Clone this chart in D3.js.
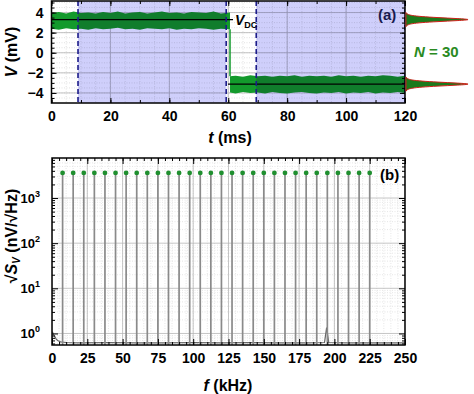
<!DOCTYPE html>
<html>
<head>
<meta charset="utf-8">
<script src="https://cdn.jsdelivr.net/npm/d3@7"></script>
<style>
  body { margin: 0; background: #fff; }
  svg text { font-family: "Liberation Sans", Arial, sans-serif; font-weight: bold; }
</style>
</head>
<body>
<svg id="chart" width="474" height="394"></svg>
<script>
// ---- panel (a): voltage trace ----
const tTicks = [0, 20, 40, 60, 80, 100, 120];
const vTicks = [-4, -2, 0, 2, 4];
const windows = [[9, 59.3], [69.5, 120]];
const stepTime = 60.6;
const levels = [3.3, -3.12];

const segAt  = [0, 2.5, 5, 7.5, 10, 12.5, 15, 17.5, 20, 22.5, 25, 27.5, 30, 32.5, 35, 37.5, 40, 42.5, 45, 47.5, 50, 52.5, 55, 57.5, 60.6];
const segAhi = [3.95, 4.05, 3.9, 4.1, 3.95, 4.0, 3.9, 4.05, 3.95, 4.1, 3.9, 4.0, 4.05, 3.9, 4.0, 4.1, 3.95, 4.0, 3.9, 4.05, 4.0, 3.95, 4.1, 3.9, 4.0];
const segAlo = [2.4, 2.3, 2.45, 2.35, 2.4, 2.3, 2.45, 2.35, 2.4, 2.5, 2.35, 2.4, 2.3, 2.45, 2.4, 2.35, 2.45, 2.3, 2.4, 2.35, 2.45, 2.4, 2.3, 2.4, 2.35];
const segBt  = [60.6, 62.5, 65, 67.5, 70, 72.5, 75, 77.5, 80, 82.5, 85, 87.5, 90, 92.5, 95, 97.5, 100, 102.5, 105, 107.5, 110, 112.5, 115, 117.5, 120];
const segBhi = [-2.35, -2.3, -2.4, -2.25, -2.35, -2.3, -2.4, -2.3, -2.35, -2.25, -2.4, -2.3, -2.35, -2.3, -2.4, -2.25, -2.35, -2.3, -2.4, -2.3, -2.35, -2.25, -2.3, -2.4, -2.3];
const segBlo = [-3.95, -4.05, -3.9, -4.0, -3.95, -4.05, -3.9, -4.0, -4.05, -3.95, -3.9, -4.0, -4.05, -3.95, -4.0, -3.9, -4.05, -3.95, -4.0, -3.9, -4.05, -3.95, -4.0, -3.9, -4.0];

// histogram of the two levels (offset from level, relative counts)
const histDV = [-0.7, -0.6, -0.5, -0.4, -0.3, -0.2, -0.1, 0, 0.1, 0.2, 0.3, 0.4, 0.5, 0.6, 0.7];
const histN  = [0, 1, 3, 8, 20, 42, 70, 90, 70, 42, 20, 8, 3, 1, 0];

// ---- panel (b): spectrum ----
const fTicks = [0, 25, 50, 75, 100, 125, 150, 175, 200, 225, 250];
const decades = [1, 10, 100, 1000];
const peakF = [7.5, 15, 22.5, 30, 37.5, 45, 52.5, 60, 67.5, 75, 82.5, 90, 97.5, 105, 112.5, 120, 127.5, 135, 142.5, 150, 157.5, 165, 172.5, 180, 187.5, 195, 202.5, 210, 217.5, 225];
const peakAmp = [3600, 3600, 3600, 3600, 3600, 3600, 3600, 3600, 3600, 3600, 3600, 3600, 3600, 3600, 3600, 3600, 3600, 3600, 3600, 3600, 3600, 3600, 3600, 3600, 3600, 3600, 3600, 3600, 3600, 3600];
const noiseF = [0.3, 1, 2, 3, 4, 6, 10, 20, 40, 60, 80, 100, 120, 140, 160, 180, 193, 194.5, 196, 210, 230, 250];
const noiseA = [1.1, 0.95, 0.85, 0.75, 0.7, 0.65, 0.63, 0.62, 0.63, 0.62, 0.62, 0.63, 0.62, 0.63, 0.62, 0.62, 0.63, 1.35, 0.63, 0.62, 0.62, 0.62];

const svg = d3.select('#chart');
const A = { left: 51.5, right: 405, top: 1, bottom: 103 };
const B = { left: 52, right: 405, top: 158, bottom: 345 };

const xT = d3.scaleLinear([0, 120], [A.left, A.right]);
const yV = d3.scaleLinear([-5, 5.15], [A.bottom, A.top]);
const xF = d3.scaleLinear([0, 250], [B.left, B.right]);
const yS = d3.scaleLog([0.555, 7700], [B.bottom, B.top]);

const defs = svg.append('defs');
defs.append('clipPath').attr('id', 'clipA').append('rect')
    .attr('x', A.left).attr('y', A.top).attr('width', A.right - A.left).attr('height', A.bottom - A.top);
defs.append('clipPath').attr('id', 'clipB').append('rect')
    .attr('x', B.left).attr('y', B.top).attr('width', B.right - B.left).attr('height', B.bottom - B.top);

// small helper for tick-only axes (inward ticks)
function tickAxis(g, axis, values, size) {
    g.call(axis.tickValues(values).tickSize(size).tickFormat(''));
    g.select('.domain').remove();
    g.selectAll('line').attr('stroke', '#000').attr('stroke-width', 1);
}

function grid(g, P, xs, ys, xVals, yVals, color, dash) {
    g.selectAll('line.gx').data(xVals).enter().append('line')
        .attr('x1', d => xs(d)).attr('x2', d => xs(d)).attr('y1', P.top).attr('y2', P.bottom)
        .attr('stroke', color).attr('stroke-width', 0.8).attr('stroke-dasharray', dash);
    g.selectAll('line.gy').data(yVals).enter().append('line')
        .attr('y1', d => ys(d)).attr('y2', d => ys(d)).attr('x1', P.left).attr('x2', P.right)
        .attr('stroke', color).attr('stroke-width', 0.8).attr('stroke-dasharray', dash);
}

// ================= panel (a) =================
const ga = svg.append('g');
const plotA = ga.append('g').attr('clip-path', 'url(#clipA)');

grid(plotA.append('g'), A, xT, yV, d3.range(5, 120, 5), d3.range(-4.5, 5.1, 0.5), '#dadada', '1,1.5');
grid(plotA.append('g'), A, xT, yV, tTicks, vTicks, '#b4b4b4', null);

const band = d3.area().x(d => xT(d[0])).y0(d => yV(d[2])).y1(d => yV(d[1]));
plotA.append('path').datum(segAt.map((t, i) => [t, segAhi[i], segAlo[i]]))
    .attr('d', band).attr('fill', '#139a2c');
plotA.append('path').datum(segBt.map((t, i) => [t, segBhi[i], segBlo[i]]))
    .attr('d', band).attr('fill', '#139a2c');
// step between the two levels
plotA.append('line')
    .attr('x1', xT(stepTime)).attr('x2', xT(stepTime))
    .attr('y1', yV(segAlo[segAlo.length - 1])).attr('y2', yV(segBhi[0]))
    .attr('stroke', '#139a2c').attr('stroke-width', 1.5);

// mean levels
plotA.append('line').attr('x1', xT(0)).attr('x2', xT(stepTime) + 3)
    .attr('y1', yV(levels[0])).attr('y2', yV(levels[0])).attr('stroke', '#000').attr('stroke-width', 1.4);
plotA.append('line').attr('x1', xT(stepTime) - 2).attr('x2', xT(120))
    .attr('y1', yV(levels[1])).attr('y2', yV(levels[1])).attr('stroke', '#000').attr('stroke-width', 1.4);

// averaging windows
plotA.selectAll('rect.win').data(windows).enter().append('rect')
    .attr('x', d => xT(d[0])).attr('width', d => xT(d[1]) - xT(d[0]))
    .attr('y', A.top).attr('height', A.bottom - A.top)
    .attr('fill', '#cfcffb').style('mix-blend-mode', 'multiply');
plotA.selectAll('line.win').data(windows.flat()).enter().append('line')
    .attr('x1', d => xT(d)).attr('x2', d => xT(d)).attr('y1', A.top).attr('y2', A.bottom)
    .attr('stroke', '#1c1c8a').attr('stroke-width', 1.6).attr('stroke-dasharray', '5,3');

// ticks panel (a)
tickAxis(ga.append('g').attr('transform', `translate(0,${A.bottom})`), d3.axisBottom(xT), d3.range(0, 121, 10), -3);
tickAxis(ga.append('g').attr('transform', `translate(0,${A.bottom})`), d3.axisBottom(xT), tTicks, -5);
tickAxis(ga.append('g').attr('transform', `translate(0,${A.top})`), d3.axisTop(xT), d3.range(0, 121, 10), -3);
tickAxis(ga.append('g').attr('transform', `translate(0,${A.top})`), d3.axisTop(xT), tTicks, -5);
tickAxis(ga.append('g').attr('transform', `translate(${A.left},0)`), d3.axisLeft(yV), d3.range(-4.5, 5.1, 0.5), -3);
tickAxis(ga.append('g').attr('transform', `translate(${A.left},0)`), d3.axisLeft(yV), vTicks, -5);
tickAxis(ga.append('g').attr('transform', `translate(${A.right},0)`), d3.axisRight(yV), d3.range(-4.5, 5.1, 0.5), -3);
tickAxis(ga.append('g').attr('transform', `translate(${A.right},0)`), d3.axisRight(yV), vTicks, -5);

ga.append('rect').attr('x', A.left).attr('y', A.top).attr('width', A.right - A.left).attr('height', A.bottom - A.top)
    .attr('fill', 'none').attr('stroke', '#000').attr('stroke-width', 1.5);

// tick labels (a)
const axTa = ga.append('g').attr('transform', `translate(0,${A.bottom})`)
    .call(d3.axisBottom(xT).tickValues(tTicks).tickSize(0).tickPadding(8));
axTa.select('.domain').remove();
const axVa = ga.append('g').attr('transform', `translate(${A.left},0)`)
    .call(d3.axisLeft(yV).tickValues(vTicks).tickSize(0).tickPadding(8));
axVa.select('.domain').remove();
[axTa, axVa].forEach(g => g.selectAll('text')
    .attr('font-size', 14).attr('font-family', '"Liberation Sans", Arial, sans-serif')
    .attr('font-weight', 'bold').attr('fill', '#000'));

// histograms on the right
const xH = d3.scaleLinear([0, d3.max(histN)], [A.right + 1, 473]);
const histArea = d3.area().curve(d3.curveBasis)
    .y(d => yV(d[0])).x0(xH(0)).x1(d => xH(d[1]));
levels.forEach(lv => {
    ga.append('path').datum(histDV.map((dv, i) => [lv + dv, histN[i]]))
        .attr('d', histArea).attr('fill', '#1b7a1b').attr('stroke', '#d0201a').attr('stroke-width', 1);
});

// labels (a)
const vdc = ga.append('text').attr('x', xT(stepTime) + 5).attr('y', 25).attr('font-size', 14);
vdc.append('tspan').attr('font-style', 'italic').text('V');
vdc.append('tspan').attr('font-size', 9).attr('dy', 3).text('DC');

ga.append('text').attr('x', 378).attr('y', 20).attr('font-size', 15).attr('fill', '#1a1a4e').text('(a)');

const nLab = ga.append('text').attr('x', 414).attr('y', 57).attr('font-size', 15).attr('fill', '#2a8a22');
nLab.append('tspan').attr('font-style', 'italic').text('N');
nLab.append('tspan').text(' = 30');

const tLab = ga.append('text').attr('x', 230).attr('y', 143).attr('text-anchor', 'middle').attr('font-size', 16);
tLab.append('tspan').attr('font-style', 'italic').text('t');
tLab.append('tspan').text(' (ms)');

const vLab = ga.append('text').attr('transform', 'translate(17,52) rotate(-90)')
    .attr('text-anchor', 'middle').attr('font-size', 16);
vLab.append('tspan').attr('font-style', 'italic').text('V');
vLab.append('tspan').text(' (mV)');

// ================= panel (b) =================
const gb = svg.append('g');
const plotB = gb.append('g').attr('clip-path', 'url(#clipB)');

const minorLog = [];
[0.1, 1, 10, 100, 1000].forEach(d => [2, 3, 4, 5, 6, 7, 8, 9].forEach(m => {
    const v = d * m;
    if (v > 0.555 && v < 7700) minorLog.push(v);
}));

grid(plotB.append('g'), B, xF, yS, d3.range(5, 250, 5), minorLog, '#e0e0e0', '1,1.5');
grid(plotB.append('g'), B, xF, yS, fTicks, decades, '#b8b8b8', null);

// noise floor
plotB.append('path').datum(noiseF.map((f, i) => [f, noiseA[i]]))
    .attr('d', d3.line().x(d => xF(d[0])).y(d => yS(d[1])))
    .attr('fill', 'none').attr('stroke', '#666').attr('stroke-width', 1.2);

// harmonic peaks
plotB.selectAll('line.peak').data(peakF).enter().append('line')
    .attr('x1', d => xF(d)).attr('x2', d => xF(d))
    .attr('y1', B.bottom).attr('y2', (d, i) => yS(peakAmp[i]))
    .attr('stroke', '#8a8a8a').attr('stroke-width', 1.7);
plotB.selectAll('circle.peak').data(peakF).enter().append('circle')
    .attr('cx', d => xF(d)).attr('cy', (d, i) => yS(peakAmp[i])).attr('r', 2.4)
    .attr('fill', '#1f8f2f');

// ticks panel (b)
tickAxis(gb.append('g').attr('transform', `translate(0,${B.bottom})`), d3.axisBottom(xF), d3.range(0, 251, 5), -3);
tickAxis(gb.append('g').attr('transform', `translate(0,${B.bottom})`), d3.axisBottom(xF), fTicks, -6);
tickAxis(gb.append('g').attr('transform', `translate(0,${B.top})`), d3.axisTop(xF), d3.range(0, 251, 5), -3);
tickAxis(gb.append('g').attr('transform', `translate(0,${B.top})`), d3.axisTop(xF), fTicks, -6);
tickAxis(gb.append('g').attr('transform', `translate(${B.left},0)`), d3.axisLeft(yS), minorLog, -3);
tickAxis(gb.append('g').attr('transform', `translate(${B.left},0)`), d3.axisLeft(yS), decades, -6);
tickAxis(gb.append('g').attr('transform', `translate(${B.right},0)`), d3.axisRight(yS), minorLog, -3);
tickAxis(gb.append('g').attr('transform', `translate(${B.right},0)`), d3.axisRight(yS), decades, -6);

gb.append('rect').attr('x', B.left).attr('y', B.top).attr('width', B.right - B.left).attr('height', B.bottom - B.top)
    .attr('fill', 'none').attr('stroke', '#000').attr('stroke-width', 1.5);

const axFb = gb.append('g').attr('transform', `translate(0,${B.bottom})`)
    .call(d3.axisBottom(xF).tickValues(fTicks).tickSize(0).tickPadding(8));
axFb.select('.domain').remove();
axFb.selectAll('text')
    .attr('font-size', 14).attr('font-family', '"Liberation Sans", Arial, sans-serif')
    .attr('font-weight', 'bold').attr('fill', '#000');

const axSb = gb.append('g').attr('transform', `translate(${B.left},0)`)
    .call(d3.axisLeft(yS).tickValues(decades).tickSize(0).tickPadding(12).tickFormat(''));
axSb.select('.domain').remove();
axSb.selectAll('text')
    .attr('font-size', 13).attr('font-family', '"Liberation Sans", Arial, sans-serif')
    .attr('font-weight', 'bold').attr('fill', '#000')
    .each(function(d) {
        const t = d3.select(this);
        t.append('tspan').text('10');
        t.append('tspan').attr('font-size', 9).attr('dy', -6).text(Math.round(Math.log10(d)));
    });

gb.append('text').attr('x', 380).attr('y', 180).attr('font-size', 15).attr('fill', '#000').text('(b)');

const fLab = gb.append('text').attr('x', 228).attr('y', 391).attr('text-anchor', 'middle').attr('font-size', 16);
fLab.append('tspan').attr('font-style', 'italic').text('f');
fLab.append('tspan').text(' (kHz)');

const sLab = gb.append('text').attr('transform', 'translate(17,236) rotate(-90)')
    .attr('text-anchor', 'middle').attr('font-size', 16);
sLab.append('tspan').text('√');
sLab.append('tspan').attr('font-style', 'italic').text('S');
sLab.append('tspan').attr('font-style', 'italic').attr('font-size', 10).attr('dy', 3).text('V');
sLab.append('tspan').attr('dy', -3).text(' (nV/√Hz)');
</script>
</body>
</html>
